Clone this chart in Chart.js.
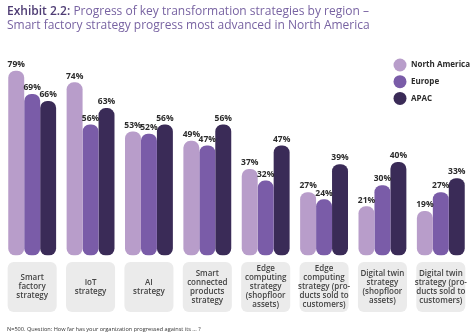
<!DOCTYPE html>
<html>
<head>
<meta charset="utf-8">
<script src="https://cdn.jsdelivr.net/npm/chart.js@4"></script>
<style>
  body { margin: 0; background: #fff; }
  #wrap { position: relative; width: 474px; height: 335px; overflow: hidden; font-family: "Open Sans", sans-serif; }
  #chart { position: absolute; left: 0; top: 0; }
  .title { position: absolute; left: 7px; top: 4px; font-size: 12px; line-height: 14px; color: #7863a2; white-space: nowrap; }
  .title b { color: #4e3c74; font-weight: 600; }
  .note { position: absolute; left: 7px; top: 325px; font-size: 5.6px; color: #333; white-space: nowrap; }
</style>
</head>
<body>
<div id="wrap">
  <canvas id="chart" width="474" height="335"></canvas>
  <div class="title"><b>Exhibit 2.2:</b> Progress of key transformation strategies by region –<br>Smart factory strategy progress most advanced in North America</div>
  <div class="note">N=500. Question: How far has your organization progressed against its ... ?</div>
</div>
<script>
// Data
const categories = [
    ['Smart', 'factory', 'strategy'],
    ['IoT', 'strategy'],
    ['AI', 'strategy'],
    ['Smart', 'connected', 'products', 'strategy'],
    ['Edge', 'computing', 'strategy', '(shopfloor', 'assets)'],
    ['Edge', 'computing', 'strategy (pro-', 'ducts sold to', 'customers)'],
    ['Digital twin', 'strategy', '(shopfloor', 'assets)'],
    ['Digital twin', 'strategy (pro-', 'ducts sold to', 'customers)']
];
const seriesNames = ['North America', 'Europe', 'APAC'];
const northAmerica = [79, 74, 53, 49, 37, 27, 21, 19];
const europe = [69, 56, 52, 47, 32, 24, 30, 27];
const apac = [66, 63, 56, 56, 47, 39, 40, 33];
const colors = ['#b89dca', '#7a5ca8', '#3a2b57'];

// Value labels above each bar
const valueLabels = {
    id: 'valueLabels',
    afterDatasetsDraw(chart) {
        const ctx = chart.ctx;
        ctx.save();
        ctx.font = '700 8.5px "Open Sans", sans-serif';
        ctx.fillStyle = '#2b2b2b';
        ctx.textAlign = 'center';
        ctx.textBaseline = 'bottom';
        chart.data.datasets.forEach((ds, i) => {
            chart.getDatasetMeta(i).data.forEach((bar, j) => {
                ctx.fillText(ds.data[j] + '%', bar.x, bar.y - 2);
            });
        });
        ctx.restore();
    }
};

// Grey category boxes under each group
const categoryBoxes = {
    id: 'categoryBoxes',
    afterDraw(chart) {
        const ctx = chart.ctx;
        const xs = chart.scales.x;
        const step = xs.width / categories.length;
        const w = step * 0.84;
        const top = 262, h = 50;
        ctx.save();
        categories.forEach((lines, i) => {
            const cx = xs.getPixelForValue(i);
            ctx.fillStyle = '#ebebeb';
            ctx.beginPath();
            ctx.roundRect(cx - w / 2, top, w, h, 6);
            ctx.fill();
            ctx.fillStyle = '#444';
            ctx.font = '600 8px "Open Sans", sans-serif';
            ctx.textAlign = 'center';
            ctx.textBaseline = 'middle';
            const lh = 9.1;
            const y0 = top + h / 2 - (lines.length - 1) * lh / 2;
            lines.forEach((t, k) => ctx.fillText(t, cx, y0 + k * lh));
        });
        ctx.restore();
    }
};

// Legend top right
const cornerLegend = {
    id: 'cornerLegend',
    afterDraw(chart) {
        const ctx = chart.ctx;
        ctx.save();
        ctx.font = '700 8px "Open Sans", sans-serif';
        ctx.textBaseline = 'middle';
        chart.data.datasets.forEach((ds, i) => {
            const y = 65 + i * 16.7;
            ctx.fillStyle = ds.backgroundColor;
            ctx.beginPath();
            ctx.arc(400, y, 6.5, 0, Math.PI * 2);
            ctx.fill();
            ctx.fillStyle = '#2b2b2b';
            ctx.fillText(ds.label, 411, y);
        });
        ctx.restore();
    }
};

const datasets = [northAmerica, europe, apac].map((d, i) => ({
    label: seriesNames[i],
    data: d,
    backgroundColor: colors[i],
    borderRadius: 7,
    borderSkipped: false,
    categoryPercentage: 0.82,
    barPercentage: 1.0
}));

new Chart(document.getElementById('chart'), {
    type: 'bar',
    data: { labels: categories.map(c => c.join(' ')), datasets: datasets },
    options: {
        responsive: false,
        animation: false,
        layout: { padding: { left: 3, right: 4, top: 21.5, bottom: 79.5 } },
        plugins: { legend: { display: false }, tooltip: { enabled: false } },
        scales: {
            x: { display: false },
            y: { display: false, min: 0, max: 100 }
        }
    },
    plugins: [valueLabels, categoryBoxes, cornerLegend]
});
</script>
</body>
</html>
